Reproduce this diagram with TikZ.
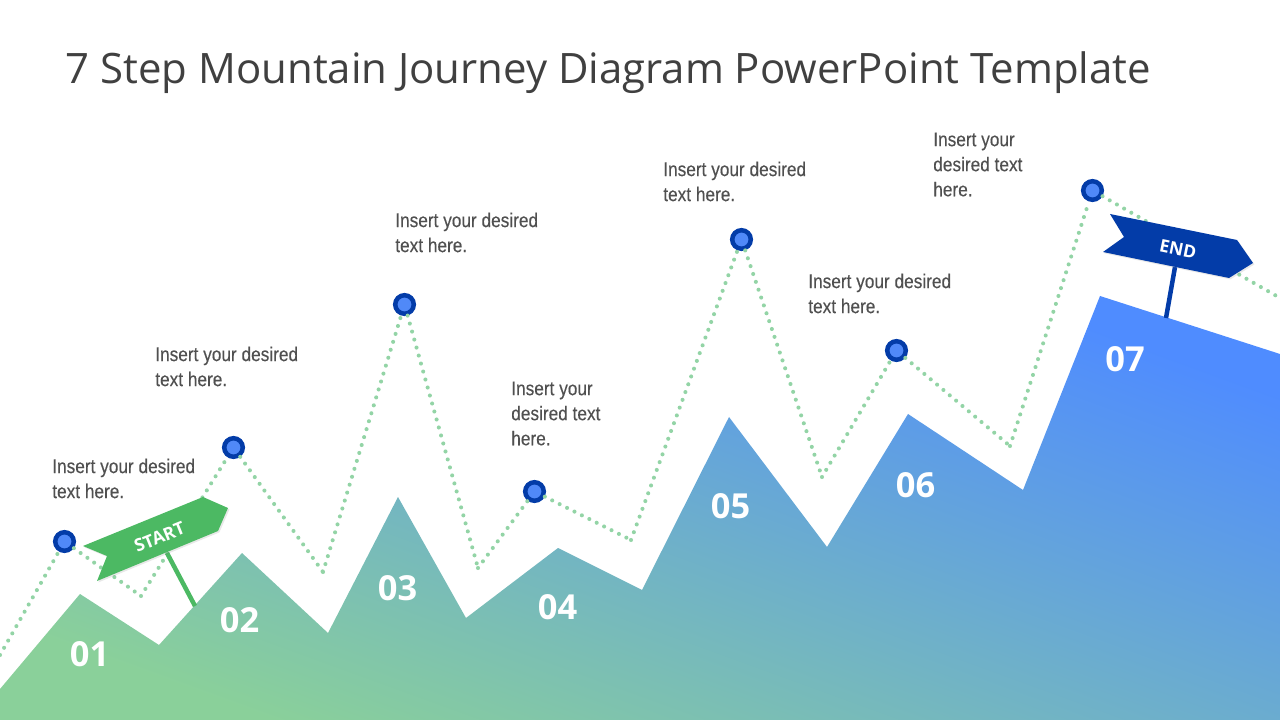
\documentclass[tikz,border=0pt]{standalone}
\usepackage{fontspec}
\usetikzlibrary{shadows}
\setmainfont{Open Sans}
\newfontfamily\bodyfont[FakeStretch=0.87,FakeBold=0.25]{Liberation Sans}
\definecolor{titlegray}{HTML}{404040}
\definecolor{bodygray}{HTML}{505050}
\definecolor{trailgreen}{HTML}{93D4A6}
\definecolor{startgreen}{HTML}{4CB963}
\definecolor{endblue}{HTML}{033CA8}
\definecolor{dotblue}{HTML}{5089F8}
\definecolor{lowgreen}{HTML}{8AD09A}
\definecolor{highblue}{HTML}{4F8CFF}
\tikzstyle{stepdot}=[circle, fill=dotblue, draw=endblue, line width=3.2pt, minimum size=13.2pt, inner sep=0pt]
\tikzstyle{trail}=[draw=trailgreen, line width=2.9pt, line cap=round, dash pattern=on 0pt off 5.9pt]
\tikzstyle{stepnote}=[anchor=west, align=left, inner sep=0pt, text=bodygray, font=\bodyfont\fontsize{14.1}{17.8}\selectfont]
\tikzstyle{stepnum}=[text=white, font=\fontsize{24.5}{25}\selectfont\bfseries]
\tikzstyle{flagtext}=[text=white, font=\fontsize{12.5}{12.5}\selectfont\bfseries]
\tikzstyle{flagshadow}=[drop shadow={opacity=0.18, shadow xshift=1pt, shadow yshift=-1pt}]

\begin{document}
\begin{tikzpicture}[x=0.025cm, y=-0.025cm]
	\useasboundingbox (0, 0) rectangle (1280, 720);
	\node (title) at (65.5, 72.5)[anchor=west, inner sep=0pt, text=titlegray, font=\fontsize{29.8}{31}\selectfont] {7 Step Mountain Journey Diagram PowerPoint Template};
	\shade [left color=highblue, right color=lowgreen, shading angle=-20] (0, 689) -- (80, 594) -- (159, 645) -- (242, 553) -- (328, 633) -- (398, 497) -- (466, 618) -- (558, 548) -- (642, 590) -- (729, 417) -- (827, 547) -- (908, 414) -- (1023, 490) -- (1100, 296) -- (1280, 354) -- (1280, 720) -- (0, 720) -- cycle;
	\begin{scope}
		\coordinate (in) at (0, 655);
		\node (p1) at (64.5, 541.5)[stepdot] {};
		\coordinate (v1) at (141, 596);
		\node (p2) at (233.5, 447.5)[stepdot] {};
		\coordinate (v2) at (323, 572);
		\node (p3) at (404.5, 304.5)[stepdot] {};
		\coordinate (v3) at (478, 568);
		\node (p4) at (534.5, 491.5)[stepdot] {};
		\coordinate (v4) at (631, 540);
		\node (p5) at (741.5, 239.5)[stepdot] {};
		\coordinate (v5) at (822, 477);
		\node (p6) at (896.5, 350.5)[stepdot] {};
		\coordinate (v6) at (1010, 446);
		\node (p7) at (1092.5, 190.5)[stepdot] {};
		\coordinate (out) at (1280, 298);
	\end{scope}
	\begin{scope}
		\path [trail] (in) edge (p1);
		\path [trail] (p1) edge (v1);
		\path [trail] (v1) edge (p2);
		\path [trail] (p2) edge (v2);
		\path [trail] (v2) edge (p3);
		\path [trail] (p3) edge (v3);
		\path [trail] (v3) edge (p4);
		\path [trail] (p4) edge (v4);
		\path [trail] (v4) edge (p5);
		\path [trail] (p5) edge (v5);
		\path [trail] (v5) edge (p6);
		\path [trail] (p6) edge (v6);
		\path [trail] (v6) edge (p7);
		\path [trail] (p7) edge (out);
	\end{scope}
	\begin{scope}
		\coordinate (starttop) at (167, 553);
		\coordinate (startfoot) at (195, 606);
		\coordinate (endtop) at (1175, 267);
		\coordinate (endfoot) at (1166, 318);
		\path [draw=startgreen, line width=3.2pt] (starttop) -- (startfoot);
		\path [draw=endblue, line width=3.2pt] (endtop) -- (endfoot);
		\fill [startgreen, flagshadow] (83, 546) -- (203, 497) -- (228, 508) -- (218, 531) -- (97, 581) -- (107, 556) -- cycle;
		\fill [endblue, flagshadow] (1110, 214) -- (1237, 240) -- (1253, 263) -- (1229, 278) -- (1103, 252) -- (1124, 237) -- cycle;
		\node (start) at (159.5, 537)[flagtext, rotate=22] {START};
		\node (end) at (1178, 249.5)[flagtext, rotate=-11.5] {END};
	\end{scope}
	\begin{scope}
		\node (t1) at (52, 478.5)[stepnote] {Insert your desired\\text here.};
		\node (t2) at (155, 366.5)[stepnote] {Insert your desired\\text here.};
		\node (t3) at (395, 232.5)[stepnote] {Insert your desired\\text here.};
		\node (t4) at (511, 413.5)[stepnote] {Insert your\\desired text\\here.};
		\node (t5) at (663, 181.5)[stepnote] {Insert your desired\\text here.};
		\node (t6) at (808, 293.5)[stepnote] {Insert your desired\\text here.};
		\node (t7) at (933, 164.5)[stepnote] {Insert your\\desired text\\here.};
		\node (n1) at (89.5, 654)[stepnum] {01};
		\node (n2) at (239.5, 620)[stepnum] {02};
		\node (n3) at (397.5, 588)[stepnum] {03};
		\node (n4) at (557.5, 607)[stepnum] {04};
		\node (n5) at (730.5, 506)[stepnum] {05};
		\node (n6) at (915.5, 485)[stepnum] {06};
		\node (n7) at (1125, 359)[stepnum] {07};
	\end{scope}
\end{tikzpicture}
\end{document}
